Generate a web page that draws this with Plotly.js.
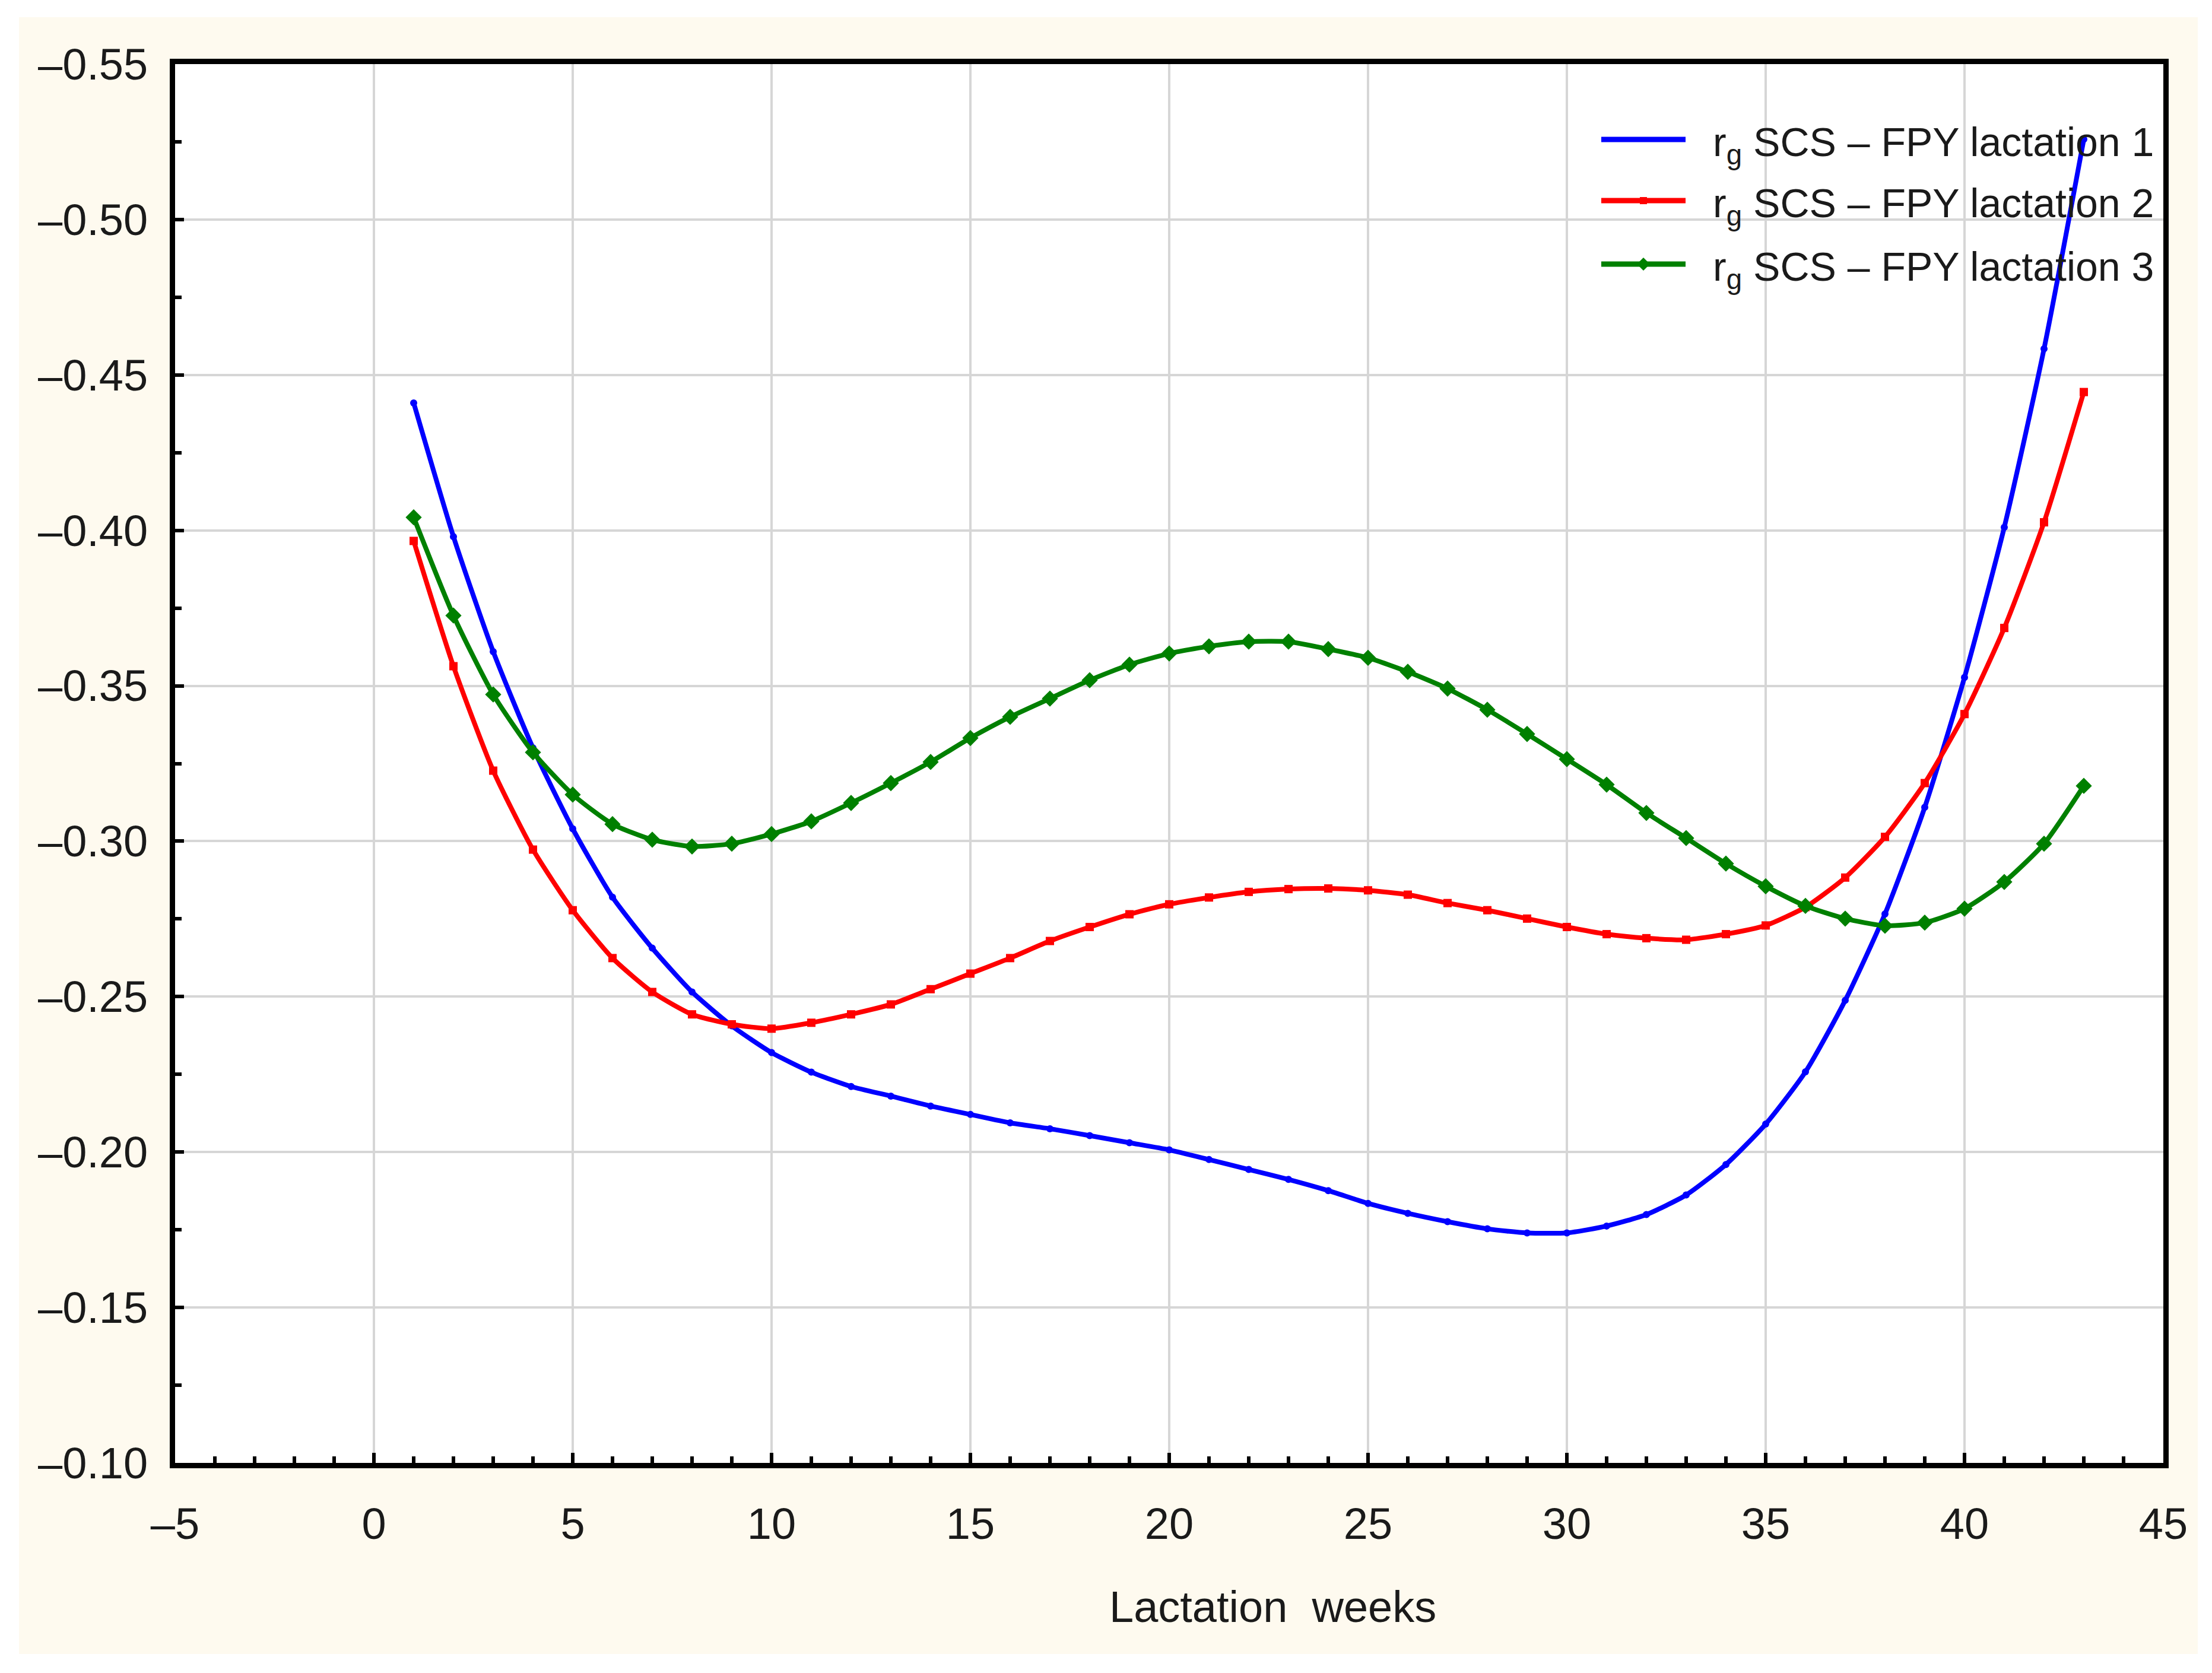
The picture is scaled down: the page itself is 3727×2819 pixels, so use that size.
<!DOCTYPE html>
<html>
<head>
<meta charset="utf-8">
<script src="https://cdn.plot.ly/plotly-3.0.1.min.js"></script>
<style>
  html, body { margin: 0; padding: 0; background: #ffffff; }
  #chart { position: absolute; left: 32px; top: 29px; width: 3671px; height: 2758px; }
</style>
</head>
<body>
<div id="chart"></div>
<script>
// Lactation weeks
const weeks = [1,2,3,4,5,6,7,8,9,10,11,12,13,14,15,16,17,18,19,20,21,22,23,24,25,26,27,28,29,30,31,32,33,34,35,36,37,38,39,40,41,42,43];

// r_g SCS – FPY, lactation 1
const lact1 = [-0.441,-0.398,-0.361,-0.330,-0.304,-0.282,-0.2656,-0.2515,-0.2406,-0.232,-0.2257,-0.2211,-0.218,-0.2148,-0.2121,-0.2094,-0.2075,-0.2053,-0.203,-0.2007,-0.1976,-0.1944,-0.1912,-0.1876,-0.1835,-0.1803,-0.1776,-0.1753,-0.174,-0.174,-0.1762,-0.1799,-0.1862,-0.1960,-0.2090,-0.2258,-0.2488,-0.2766,-0.3109,-0.3527,-0.4010,-0.4584,-0.5258];

// r_g SCS – FPY, lactation 2
const lact2 = [-0.3966,-0.3563,-0.3227,-0.2973,-0.2778,-0.2624,-0.2515,-0.2443,-0.2411,-0.2397,-0.2416,-0.2443,-0.2475,-0.2524,-0.2574,-0.2624,-0.2679,-0.2724,-0.2765,-0.2797,-0.2819,-0.2837,-0.2846,-0.2848,-0.2842,-0.2828,-0.2801,-0.2778,-0.2751,-0.2724,-0.2701,-0.2688,-0.2683,-0.2701,-0.2729,-0.2788,-0.2883,-0.3014,-0.3187,-0.3409,-0.3686,-0.4026,-0.4445];

// r_g SCS – FPY, lactation 3
const lact3 = [-0.4042,-0.3726,-0.3472,-0.3286,-0.315,-0.3055,-0.3005,-0.2983,-0.2992,-0.3023,-0.3064,-0.3123,-0.3187,-0.3255,-0.3332,-0.34,-0.3459,-0.3518,-0.3568,-0.3604,-0.3627,-0.3642,-0.3642,-0.3618,-0.359,-0.3545,-0.3491,-0.3423,-0.3345,-0.3264,-0.3182,-0.3091,-0.301,-0.2928,-0.2855,-0.2792,-0.2751,-0.2728,-0.2738,-0.2783,-0.2869,-0.2992,-0.3178];

const seriesNames = [
  'r<sub>g</sub> SCS – FPY lactation 1',
  'r<sub>g</sub> SCS – FPY lactation 2',
  'r<sub>g</sub> SCS – FPY lactation 3'
];
const seriesColors = ['#0000ff', '#ff0000', '#008000'];
const seriesSymbols = ['circle', 'square', 'diamond'];
const seriesSizes = [12, 14, 21];
const seriesData = [lact1, lact2, lact3];

const xTickVals = [-5,0,5,10,15,20,25,30,35,40,45];
const yTickVals = [-0.55,-0.50,-0.45,-0.40,-0.35,-0.30,-0.25,-0.20,-0.15,-0.10];

const FONT = 'Liberation Sans, Arial, sans-serif';
const TXT = '#1a1a1a';

const traces = seriesData.map((vals, i) => ({
  type: 'scatter',
  mode: 'lines+markers',
  x: weeks,
  y: vals,
  name: seriesNames[i],
  line: { color: seriesColors[i], width: 8, shape: 'spline', smoothing: 0.6 },
  marker: { color: seriesColors[i], symbol: seriesSymbols[i], size: seriesSizes[i], line: { width: 0 } },
  showlegend: false,
  xaxis: 'x', yaxis: 'y'
}));

// manual legend (line sample + marker + text)
const legendRowsY = [0.9461, 0.9024, 0.857];
const legX0 = 0.7173, legX1 = 0.7597, legXm = (legX0 + legX1) / 2, legTextX = 0.7728;
const shapes = [];
const annotations = [];
const markerPaths = [
  'M-5,0 A5,5 0 1,0 5,0 A5,5 0 1,0 -5,0 Z',
  'M-6,-6 L6,-6 L6,6 L-6,6 Z',
  'M0,-11 L11,0 L0,11 L-11,0 Z'
];
legendRowsY.forEach((yy, i) => {
  shapes.push({
    type: 'line', xref: 'paper', yref: 'paper',
    x0: legX0, x1: legX1, y0: yy, y1: yy,
    line: { color: seriesColors[i], width: 9 }
  });
  shapes.push({
    type: 'path', xref: 'paper', yref: 'paper',
    xsizemode: 'pixel', ysizemode: 'pixel',
    xanchor: legXm, yanchor: yy,
    path: markerPaths[i],
    fillcolor: seriesColors[i], line: { width: 0 }
  });
  annotations.push({
    xref: 'paper', yref: 'paper', x: legTextX, y: yy - 0.004,
    xanchor: 'left', yanchor: 'middle', showarrow: false,
    text: seriesNames[i],
    font: { family: FONT, size: 68, color: TXT }
  });
});

annotations.push({
  xref: 'paper', yref: 'paper', x: 0.5522, y: -0.1027,
  xanchor: 'center', yanchor: 'middle', showarrow: false,
  text: 'Lactation\u00a0 weeks',
  font: { family: FONT, size: 74, color: TXT }
});

const layout = {
  width: 3671,
  height: 2758,
  paper_bgcolor: '#fefaef',
  plot_bgcolor: '#ffffff',
  margin: { l: 263, r: 58, t: 79, b: 322, pad: 0 },
  showlegend: false,
  font: { family: FONT, size: 74, color: TXT },
  xaxis: {
    range: [-5, 45],
    tickvals: xTickVals,
    ticktext: xTickVals.map(v => v < 0 ? '\u2013' + Math.abs(v) : String(v)),
    showgrid: true, gridcolor: '#d6d6d6', gridwidth: 4,
    zeroline: false,
    showline: true, linecolor: '#000000', linewidth: 9, mirror: true,
    ticks: 'inside', ticklen: 17, tickwidth: 6, tickcolor: '#000000',
    minor: { dtick: 1, tick0: 0, ticks: 'inside', ticklen: 11, tickwidth: 6, tickcolor: '#000000', showgrid: false },
    tickfont: { family: FONT, size: 74, color: TXT },
    ticklabelstandoff: 30
  },
  xaxis2: {
    overlaying: 'x', side: 'top', anchor: 'y',
    range: [-5, 45], tickvals: xTickVals,
    showticklabels: false, showgrid: false, zeroline: false, showline: false,
    ticks: 'inside', ticklen: 14, tickwidth: 6, tickcolor: '#000000'
  },
  yaxis: {
    range: [-0.10, -0.55],
    tickvals: yTickVals,
    ticktext: yTickVals.map(v => '\u2013' + Math.abs(v).toFixed(2)),
    showgrid: true, gridcolor: '#d6d6d6', gridwidth: 4,
    zeroline: false,
    showline: true, linecolor: '#000000', linewidth: 9, mirror: true,
    ticks: 'inside', ticklen: 15, tickwidth: 6, tickcolor: '#000000',
    minor: { dtick: 0.025, tick0: 0, ticks: 'inside', ticklen: 11, tickwidth: 6, tickcolor: '#000000', showgrid: false },
    tickfont: { family: FONT, size: 74, color: TXT },
    ticklabelstandoff: 22
  },
  yaxis2: {
    overlaying: 'y', side: 'right', anchor: 'x',
    range: [-0.10, -0.55], tickvals: yTickVals,
    showticklabels: false, showgrid: false, zeroline: false, showline: false,
    ticks: 'inside', ticklen: 15, tickwidth: 6, tickcolor: '#000000',
    minor: { dtick: 0.01, tick0: 0, ticks: 'inside', ticklen: 11, tickwidth: 6, tickcolor: '#000000', showgrid: false }
  },
  shapes: shapes,
  annotations: annotations
};

Plotly.newPlot('chart', traces, layout, { staticPlot: true, displayModeBar: false });
</script>
</body>
</html>
